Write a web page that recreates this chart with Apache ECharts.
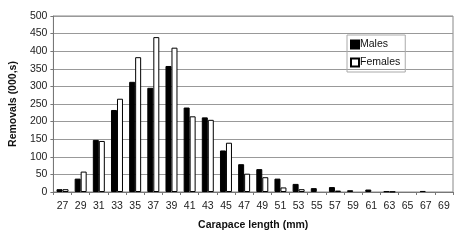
<!DOCTYPE html>
<html><head><meta charset="utf-8">
<script src="https://cdn.jsdelivr.net/npm/echarts@6/dist/echarts.min.js"></script>
<style>html,body{margin:0;padding:0;background:#fff}#c{width:474px;height:245px}</style>
</head><body><div id="c"></div>
<script>
const categories = ['27','29','31','33','35','37','39','41','43','45','47','49','51','53','55','57','59','61','63','65','67','69'];
const males   = [8, 38, 148, 233, 313, 296, 358, 240, 212, 118, 79, 65, 38, 23, 11, 14, 5, 7, 2, 0, 3, 0];
const females = [8, 58, 145, 265, 383, 440, 410, 215, 205, 140, 52, 42, 13, 8, 0, 4, 0, 0, 1, 0, 0, 0];
const yTicks = {min: 0, max: 500, interval: 50};

const hideZero = arr => arr.map(v => (v === 0 ? '-' : v));
const font = 'Liberation Sans, Arial, sans-serif';
const chart = echarts.init(document.getElementById('c'), null, {renderer: 'canvas'});
chart.setOption({
  animation: false,
  backgroundColor: '#fff',
  grid: {left: 50, right: 21, top: 16, bottom: 53, show: true, borderColor: '#888', borderWidth: 1},
  legend: {
    data: [
      {name: 'Males', icon: 'rect'},
      {name: 'Females', icon: 'rect'}
    ],
    orient: 'vertical',
    left: 347, top: 35,
    itemWidth: 8, itemHeight: 8, itemGap: 7,
    padding: [4, 5, 4, 3],
    borderColor: '#aaa', borderWidth: 1,
    textStyle: {fontFamily: font, fontSize: 10.5, color: '#111', padding: [0, 0, 0, -4]}
  },
  xAxis: {
    type: 'category', data: categories,
    name: 'Carapace length (mm)', nameLocation: 'middle', nameGap: 28,
    nameTextStyle: {fontFamily: font, fontSize: 10.5, fontWeight: 'bold', color: '#111'},
    axisLine: {lineStyle: {color: '#777'}},
    axisTick: {show: true, length: 3, lineStyle: {color: '#777'}},
    axisLabel: {fontFamily: font, fontSize: 10.5, color: '#222', margin: 9, interval: 0}
  },
  yAxis: {
    type: 'value', min: yTicks.min, max: yTicks.max, interval: yTicks.interval,
    name: 'Removals (000,s)', nameLocation: 'middle', nameGap: 33, nameRotate: 90,
    nameTextStyle: {fontFamily: font, fontSize: 10.5, fontWeight: 'bold', color: '#111'},
    axisLine: {show: true, lineStyle: {color: '#777'}},
    axisTick: {show: true, length: 3, lineStyle: {color: '#777'}},
    axisLabel: {fontFamily: font, fontSize: 10.5, color: '#222', margin: 6},
    splitLine: {lineStyle: {color: '#999', width: 1}}
  },
  series: [
    {name: 'Males', type: 'bar', data: hideZero(males), barGap: '0%', barCategoryGap: '34%',
     itemStyle: {color: '#000', borderColor: '#000', borderWidth: 1}},
    {name: 'Females', type: 'bar', data: hideZero(females),
     itemStyle: {color: '#fff', borderColor: '#000', borderWidth: 1}}
  ]
});
</script></body></html>
